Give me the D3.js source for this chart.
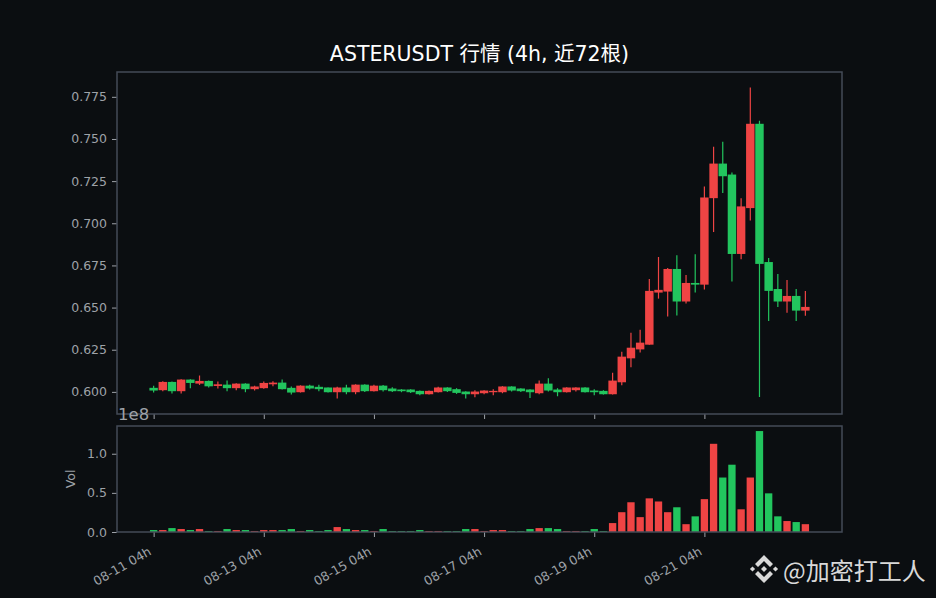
<!DOCTYPE html>
<html>
<head>
<meta charset="utf-8">
<script src="https://cdn.jsdelivr.net/npm/d3@7"></script>
<style>
    html, body { margin: 0; padding: 0; background: #0b0e11; }
</style>
</head>
<body>
<div id="chart"></div>
<script>
const ENGFONT = "DejaVu Sans";
const CJKFONT = "Noto Sans CJK SC";
const COLOR_BG = "#0b0e11";
const COLOR_UP = "#ef4444";
const COLOR_DOWN = "#22c55e";
const COLOR_SPINE = "#444b57";
const COLOR_TICK = "#9ea2a8";
const COLOR_TITLE = "#ffffff";
const COLOR_MARK = "#d9d9d9";

// ---- data (4h candles, 08-11 04h .. 08-23 00h) ----
const titleText = "ASTERUSDT 行情 (4h, 近72根)";
const watermarkText = "@加密打工人";

const openPrice = [
    0.6024, 0.6010, 0.6059, 0.6004, 0.6073, 0.6049, 0.6065, 0.6035, 0.6043, 0.6022, 0.6049, 0.6016,
    0.6022, 0.6045, 0.6055, 0.6024, 0.5998, 0.6037, 0.6030, 0.6026, 0.5998, 0.6026, 0.5998, 0.6043,
    0.6004, 0.6037, 0.6020, 0.6014, 0.6014, 0.6006, 0.5986, 0.5998, 0.6026, 0.6016, 0.6002, 0.5986,
    0.5992, 0.5998, 0.5998, 0.6032, 0.6020, 0.6014, 0.5992, 0.6049, 0.6014, 0.5998, 0.6010, 0.6026,
    0.6008, 0.6006, 0.5986, 0.6057, 0.6199, 0.6252, 0.6280, 0.6589, 0.6595, 0.6729, 0.6536, 0.6646,
    0.6636, 0.7149, 0.7354, 0.7289, 0.6818, 0.7090, 0.7590, 0.6770, 0.6610, 0.6536, 0.6569, 0.6482
];
const highPrice = [
    0.6037, 0.6063, 0.6061, 0.6075, 0.6075, 0.6097, 0.6067, 0.6061, 0.6067, 0.6051, 0.6051, 0.6037,
    0.6061, 0.6063, 0.6073, 0.6032, 0.6039, 0.6043, 0.6043, 0.6026, 0.6030, 0.6043, 0.6045, 0.6045,
    0.6043, 0.6041, 0.6028, 0.6016, 0.6016, 0.6008, 0.6008, 0.6030, 0.6028, 0.6022, 0.6004, 0.6010,
    0.6010, 0.6016, 0.6034, 0.6034, 0.6022, 0.6016, 0.6067, 0.6081, 0.6022, 0.6028, 0.6028, 0.6028,
    0.6016, 0.6010, 0.6114, 0.6238, 0.6351, 0.6368, 0.6670, 0.6800, 0.6735, 0.6811, 0.6693, 0.6817,
    0.7218, 0.7454, 0.7484, 0.7301, 0.7149, 0.7805, 0.7608, 0.6794, 0.6699, 0.6664, 0.6610, 0.6599
];
const lowPrice = [
    0.5996, 0.6004, 0.5990, 0.5990, 0.6022, 0.6041, 0.6026, 0.6020, 0.6004, 0.6010, 0.5998, 0.6008,
    0.6018, 0.6033, 0.6014, 0.5984, 0.5996, 0.6014, 0.6004, 0.5996, 0.5961, 0.5986, 0.5986, 0.6000,
    0.6002, 0.6002, 0.6000, 0.5998, 0.5994, 0.5980, 0.5984, 0.5996, 0.6000, 0.5988, 0.5961, 0.5968,
    0.5986, 0.5980, 0.5992, 0.6002, 0.6000, 0.5963, 0.5986, 0.6002, 0.5974, 0.5996, 0.6002, 0.5996,
    0.5980, 0.5984, 0.5984, 0.6039, 0.6146, 0.6234, 0.6280, 0.6553, 0.6447, 0.6453, 0.6524, 0.6589,
    0.6607, 0.6948, 0.7179, 0.6654, 0.6787, 0.7017, 0.5969, 0.6421, 0.6504, 0.6469, 0.6421, 0.6451
];
const closePrice = [
    0.6008, 0.6059, 0.6004, 0.6073, 0.6053, 0.6065, 0.6033, 0.6045, 0.6022, 0.6049, 0.6016, 0.6032,
    0.6053, 0.6055, 0.6016, 0.5996, 0.6037, 0.6020, 0.6016, 0.5998, 0.6026, 0.5998, 0.6043, 0.6004,
    0.6037, 0.6010, 0.6004, 0.6004, 0.5998, 0.5986, 0.6006, 0.6026, 0.6004, 0.5994, 0.5986, 0.6002,
    0.6008, 0.6006, 0.6032, 0.6008, 0.6004, 0.5998, 0.6049, 0.6008, 0.5998, 0.6026, 0.6026, 0.5998,
    0.5998, 0.5986, 0.6067, 0.6209, 0.6262, 0.6292, 0.6599, 0.6605, 0.6729, 0.6536, 0.6646, 0.6636,
    0.7153, 0.7354, 0.7279, 0.6818, 0.7100, 0.7590, 0.6759, 0.6599, 0.6536, 0.6569, 0.6482, 0.6504
];
// volume in millions
const volumeM = [
    2.5, 2.5, 5.0, 3.8, 2.5, 3.8, 1.3, 1.3, 3.8, 2.5, 2.5, 1.3,
    2.5, 2.5, 2.5, 3.8, 1.3, 2.5, 1.3, 2.5, 6.3, 3.8, 2.5, 2.5,
    1.3, 3.8, 1.3, 1.3, 1.3, 2.5, 1.3, 1.3, 1.3, 1.3, 3.8, 3.8,
    1.3, 2.5, 2.5, 1.3, 1.3, 3.8, 5.0, 5.0, 3.8, 1.3, 1.3, 1.3,
    3.8, 1.3, 11.4, 25.3, 38.0, 19.0, 43.0, 39.0, 25.3, 31.6, 10.0, 20.0,
    42.0, 112.7, 69.6, 86.0, 29.0, 69.6, 129.0, 49.4, 20.0, 14.0, 12.7, 10.0
];

const xTickIndex = [0, 12, 24, 36, 48, 60];
const xTickLabels = ["08-11 04h", "08-13 04h", "08-15 04h", "08-17 04h", "08-19 04h", "08-21 04h"];
const priceTicks = [0.600, 0.625, 0.650, 0.675, 0.700, 0.725, 0.750, 0.775];
const volumeTicks = [0, 0.5e8, 1.0e8];

// ---- layout ----
const chartSize = { width: 936, height: 598 };
const plot = { left: 117, right: 842 };
const pricePanel = { top: 72, bottom: 414 };
const volPanel = { top: 426, bottom: 532 };
const BODY_W = 0.92;
const VOL_W = 0.8;

const svg = d3.select("#chart")
    .append("svg")
    .attr("width", chartSize.width)
    .attr("height", chartSize.height)
    .attr("font-family", ENGFONT)
    .style("background", COLOR_BG);

const n = openPrice.length;
const idx = d3.range(n);
const volume = volumeM.map(v => v * 1e6);

// scales (5% margins like matplotlib)
const padX = (n - 1 + VOL_W) * 0.05;
const x = d3.scaleLinear()
    .domain([-VOL_W / 2 - padX, n - 1 + VOL_W / 2 + padX])
    .range([plot.left, plot.right]);

const lo = d3.min(lowPrice), hi = d3.max(highPrice);
const padY = (hi - lo) * 0.05;
const y = d3.scaleLinear()
    .domain([lo - padY, hi + padY])
    .range([pricePanel.bottom, pricePanel.top]);

const yVol = d3.scaleLinear()
    .domain([0, d3.max(volume) * 1.05])
    .range([volPanel.bottom, volPanel.top]);

const isUp = i => closePrice[i] >= openPrice[i];
const colorOf = i => isUp(i) ? COLOR_UP : COLOR_DOWN;
const step = x(1) - x(0);

// candles
const candleLayer = svg.append("g").attr("class", "candles");
candleLayer.selectAll("line.wick")
    .data(idx).enter().append("line")
    .attr("class", "wick")
    .attr("x1", i => x(i))
    .attr("x2", i => x(i))
    .attr("y1", i => y(highPrice[i]))
    .attr("y2", i => y(lowPrice[i]))
    .attr("stroke", colorOf)
    .attr("stroke-width", 1.2);

candleLayer.selectAll("rect.body")
    .data(idx).enter().append("rect")
    .attr("class", "body")
    .attr("x", i => x(i) - step * BODY_W / 2)
    .attr("width", step * BODY_W)
    .attr("y", i => y(Math.max(openPrice[i], closePrice[i])))
    .attr("height", i => Math.max(1, Math.abs(y(openPrice[i]) - y(closePrice[i]))))
    .attr("fill", colorOf);

// volume bars
svg.append("g").attr("class", "volume")
    .selectAll("rect")
    .data(idx).enter().append("rect")
    .attr("x", i => x(i) - step * VOL_W / 2)
    .attr("width", step * VOL_W)
    .attr("y", i => yVol(volume[i]))
    .attr("height", i => yVol(0) - yVol(volume[i]))
    .attr("fill", colorOf);

function styleAxis(g) {
    g.attr("font-size", "12.5px").attr("font-family", ENGFONT);
    g.select(".domain").remove();
    g.selectAll(".tick line").attr("stroke", COLOR_TICK).attr("stroke-width", 1);
    g.selectAll(".tick text").attr("fill", COLOR_TICK);
}

// y axes
svg.append("g")
    .attr("transform", "translate(" + plot.left + ",0)")
    .call(d3.axisLeft(y).tickValues(priceTicks).tickFormat(d3.format(".3f")).tickSize(5).tickPadding(5))
    .call(styleAxis);

svg.append("g")
    .attr("transform", "translate(" + plot.left + ",0)")
    .call(d3.axisLeft(yVol).tickValues(volumeTicks).tickFormat(d => (d / 1e8).toFixed(1)).tickSize(5).tickPadding(5))
    .call(styleAxis);

// x axes (price panel: ticks only)
svg.append("g")
    .attr("transform", "translate(0," + pricePanel.bottom + ")")
    .call(d3.axisBottom(x).tickValues(xTickIndex).tickFormat("").tickSize(5))
    .call(styleAxis);

svg.append("g")
    .attr("transform", "translate(0," + volPanel.bottom + ")")
    .call(d3.axisBottom(x).tickValues(xTickIndex).tickFormat((d, i) => xTickLabels[i]).tickSize(5))
    .call(styleAxis)
    .call(g => {
        g.selectAll(".tick text")
            .attr("x", 0).attr("y", 0).attr("dy", 0)
            .attr("text-anchor", "end")
            .attr("transform", "translate(-2,22) rotate(-30)");
    });

// spines
[pricePanel, volPanel].forEach(p => {
    svg.append("rect")
        .attr("x", plot.left)
        .attr("y", p.top)
        .attr("width", plot.right - plot.left)
        .attr("height", p.bottom - p.top)
        .attr("fill", "none")
        .attr("stroke", COLOR_SPINE)
        .attr("stroke-width", 1.5);
});

// offset text and labels
svg.append("text")
    .attr("x", plot.left + 1)
    .attr("y", 420)
    .attr("font-size", "16.5px")
    .attr("fill", COLOR_TICK)
    .text("1e8");

svg.append("text")
    .attr("transform", "translate(75," + (volPanel.top + volPanel.bottom) / 2 + ") rotate(-90)")
    .attr("text-anchor", "middle")
    .attr("font-size", "12.5px")
    .attr("fill", COLOR_TICK)
    .text("Vol");

svg.append("text")
    .attr("x", (plot.left + plot.right) / 2)
    .attr("y", 61)
    .attr("text-anchor", "middle")
    .attr("font-size", "20.5px")
    .attr("font-family", ENGFONT + ", '" + CJKFONT + "'")
    .attr("fill", COLOR_TITLE)
    .text(titleText);

// watermark
const mark = svg.append("g").attr("transform", "translate(764,569)").attr("fill", COLOR_MARK);
mark.append("polygon").attr("points", "0,-14 9,-5 6,-2 0,-8 -6,-2 -9,-5");
mark.append("polygon").attr("points", "0,14 9,5 6,2 0,8 -6,2 -9,5");
mark.append("polygon").attr("points", "-11.5,-2.6 -8.9,0 -11.5,2.6 -14.1,0");
mark.append("polygon").attr("points", "11.5,-2.6 14.1,0 11.5,2.6 8.9,0");
mark.append("polygon").attr("points", "0,-3 3,0 0,3 -3,0");

svg.append("text")
    .attr("x", 783)
    .attr("y", 580)
    .attr("font-size", "24px")
    .attr("font-family", "'" + CJKFONT + "'")
    .attr("fill", COLOR_MARK)
    .text(watermarkText);
</script>
</body>
</html>
